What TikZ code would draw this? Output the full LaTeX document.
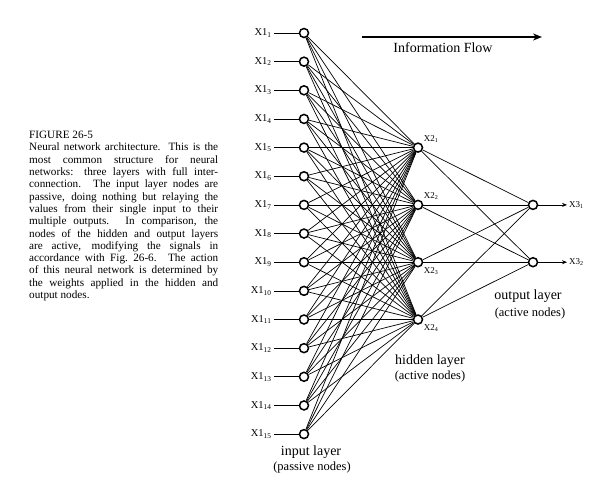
\documentclass[tikz,border=0pt]{standalone}
\usepackage{fontspec}
\setmainfont{Liberation Serif}
\usetikzlibrary{arrows.meta,positioning}
\begin{document}
\begin{tikzpicture}[x=1pt,y=-1pt,
    neuron/.style={circle,draw,line width=1.5pt,minimum size=9pt,inner sep=0pt},
    wire/.style={line width=0.7pt},
    xlabel/.style={font=\fontsize{10.5}{12}\selectfont,inner sep=2pt},
    xsmall/.style={font=\fontsize{9}{10}\selectfont,inner sep=1pt},
    layername/.style={font=\fontsize{14}{16}\selectfont,inner sep=0pt},
    layernote/.style={font=\fontsize{12.5}{14}\selectfont,inner sep=0pt}]
  \useasboundingbox (0,0) rectangle (600,498);
  \node[anchor=north west,inner sep=0pt,text width=189pt,align=justify,
        font=\fontsize{11.2}{12.3}\selectfont] (caption) at (29,131)
    {FIGURE 26-5\\
     Neural network architecture.  This is the\linebreak
     most common structure for neural\linebreak
     networks: three layers with full inter-\linebreak
     connection.  The input layer nodes  are\linebreak
     passive, doing nothing but relaying the\linebreak
     values from their single input to their\linebreak
     multiple outputs.  In comparison, the\linebreak
     nodes of the hidden and output layers\linebreak
     are active, modifying the signals in\linebreak
     accordance with Fig.\ 26-6.  The action\linebreak
     of this neural network is determined by\linebreak
     the weights applied in the hidden and\linebreak
     output nodes.};
  \foreach \i in {1,...,15}{
    \node[neuron] (in\i) at (304,{33+28.65*(\i-1)}) {};
    \node[xlabel,left=25pt of in\i] (x\i) {X1\textsubscript{\i}};
    \draw[wire] (x\i) -- (in\i);
  }
  \foreach \j/\k in {1/5,2/7,3/9,4/11}
    \node[neuron] (hid\j) at (418,{33+28.65*(\k-1)}) {};
  \foreach \j/\k in {1/7,2/9}
    \node[neuron] (out\j) at (533,{33+28.65*(\k-1)}) {};
  \foreach \i in {1,...,15}
    \foreach \j in {1,...,4}
      \draw[wire] (in\i) -- (hid\j);
  \foreach \j in {1,...,4}
    \foreach \k in {1,2}
      \draw[wire] (hid\j) -- (out\k);
  \foreach \j/\pos in {1/above right,2/above right,3/below right,4/below right}
    \node[xsmall,\pos=0pt and 1pt of hid\j] (h\j) {X2\textsubscript{\j}};
  \foreach \k in {1,2}{
    \coordinate (tip\k) at (567,{33+28.65*(2*\k+4)});
    \draw[wire,-{Stealth[length=5pt,width=4pt]}] (out\k) -- (tip\k);
    \node[xsmall,right=1pt of tip\k] (y\k) {X3\textsubscript{\k}};
  }
  \coordinate (flowA) at (362,37);
  \coordinate (flowB) at (542,37);
  \draw[line width=2.2pt,-{Stealth[length=9pt,width=7pt]}] (flowA) -- (flowB);
  \node[layername] (flow) at (443,48) {Information Flow};
  \node[layername] (inname) at (311,452) {input layer};
  \node[layernote] (innote) at (312,467) {(passive nodes)};
  \node[layername] (hidname) at (430,361) {hidden layer};
  \node[layernote] (hidnote) at (430,376) {(active nodes)};
  \node[layername] (outname) at (528,296) {output layer};
  \node[layernote] (outnote) at (530,313) {(active nodes)};
\end{tikzpicture}
\end{document}
